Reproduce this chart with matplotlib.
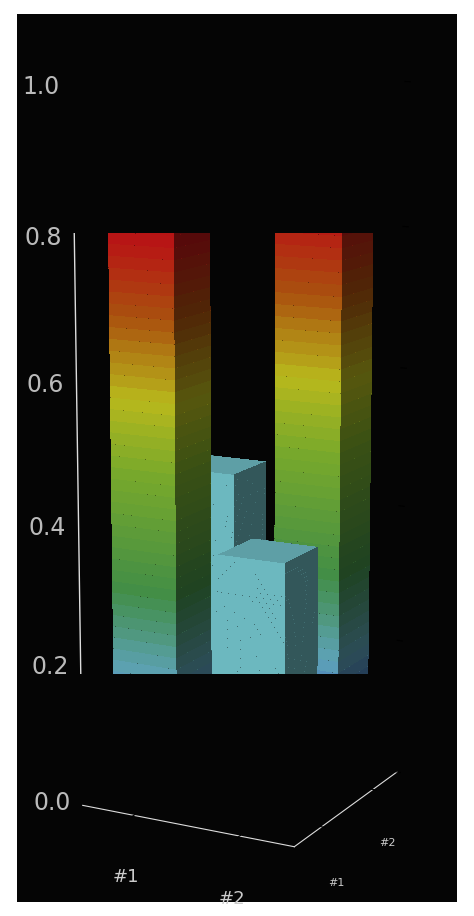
import numpy as np
import matplotlib
matplotlib.use("Agg")
import matplotlib.pyplot as plt
from matplotlib.colors import LinearSegmentedColormap

x_labels = ["#1", "#2"]
y_labels = ["#1", "#2"]
xs = [0, 1, 0, 1]
ys = [0, 1, 1, 0]
heights = [0.97, 1.0, 0.45, 0.38]
kind = ["grad", "grad", "cyan", "cyan"]
z_ticks = [0.0, 0.2, 0.4, 0.6, 0.8, 1.0]

grad = LinearSegmentedColormap.from_list("g", [
    (0.0, "#3a2a9a"), (0.12, "#4a7ad8"), (0.2, "#6ab8d0"), (0.32, "#4aa050"),
    (0.5, "#8ac030"), (0.6, "#d0d020"), (0.72, "#c05a10"), (0.82, "#d01818"),
    (1.0, "#c01010")])
cyan = LinearSegmentedColormap.from_list("c", [
    (0.0, "#3a2a9a"), (0.08, "#5a90e0"), (0.15, "#7ad0d8"), (1.0, "#7ad0d8")])

fig = plt.figure(figsize=(4.74, 9.16), dpi=100, facecolor="white")
bg = fig.add_axes([0.035, 0.015, 0.93, 0.97])
bg.set_facecolor("#050505"); bg.set_xticks([]); bg.set_yticks([])
for s in bg.spines.values(): s.set_visible(False)
ax = fig.add_axes([0.035, -0.02, 0.93, 1.05], projection="3d")
ax.patch.set_alpha(0)

n = 60
w = 0.6
for x, y, h, k in zip(xs, ys, heights, kind):
    cm = grad if k == "grad" else cyan
    dz = h / n
    for i in range(n):
        c = cm((i + 0.5) / n)
        ax.bar3d(x - w/2, y - w/2, i*dz, w, w, dz*1.02, color=c, shade=True,
                 edgecolor="none", linewidth=0, antialiased=False)

ax.set_xlim(-0.5, 1.5); ax.set_ylim(-0.5, 1.5); ax.set_zlim(0, 1)
ax.set_box_aspect((1, 1, 3.0), zoom=1.75)
ax.view_init(elev=12, azim=-62)
ax.set_xticks([0, 1]); ax.set_xticklabels(x_labels, color="#cccccc", fontsize=13)
ax.set_yticks([0, 1]); ax.set_yticklabels(y_labels, color="#cccccc", fontsize=8)
ax.set_zticks(z_ticks); ax.set_zticklabels([])
for a in (ax.xaxis, ax.yaxis, ax.zaxis):
    a.set_pane_color((0, 0, 0, 0))
    a.line.set_color("#dddddd")
    a._axinfo["grid"]["color"] = (0, 0, 0, 0)
    a._axinfo["tick"]["color"] = (0, 0, 0, 0)
ax.zaxis.line.set_color((0, 0, 0, 0))
ax.grid(False)
ax.plot([-0.5, -0.5], [-0.5, -0.5], [0, 1], color="#dddddd", lw=1, zorder=0)
for z in z_ticks:
    ax.text(-0.62, -0.5, z, f"{z:.1f}", color="#bbbbbb", fontsize=17,
            ha="right", va="center", zorder=10)
fig.savefig("out.png", dpi=100, facecolor="white")
